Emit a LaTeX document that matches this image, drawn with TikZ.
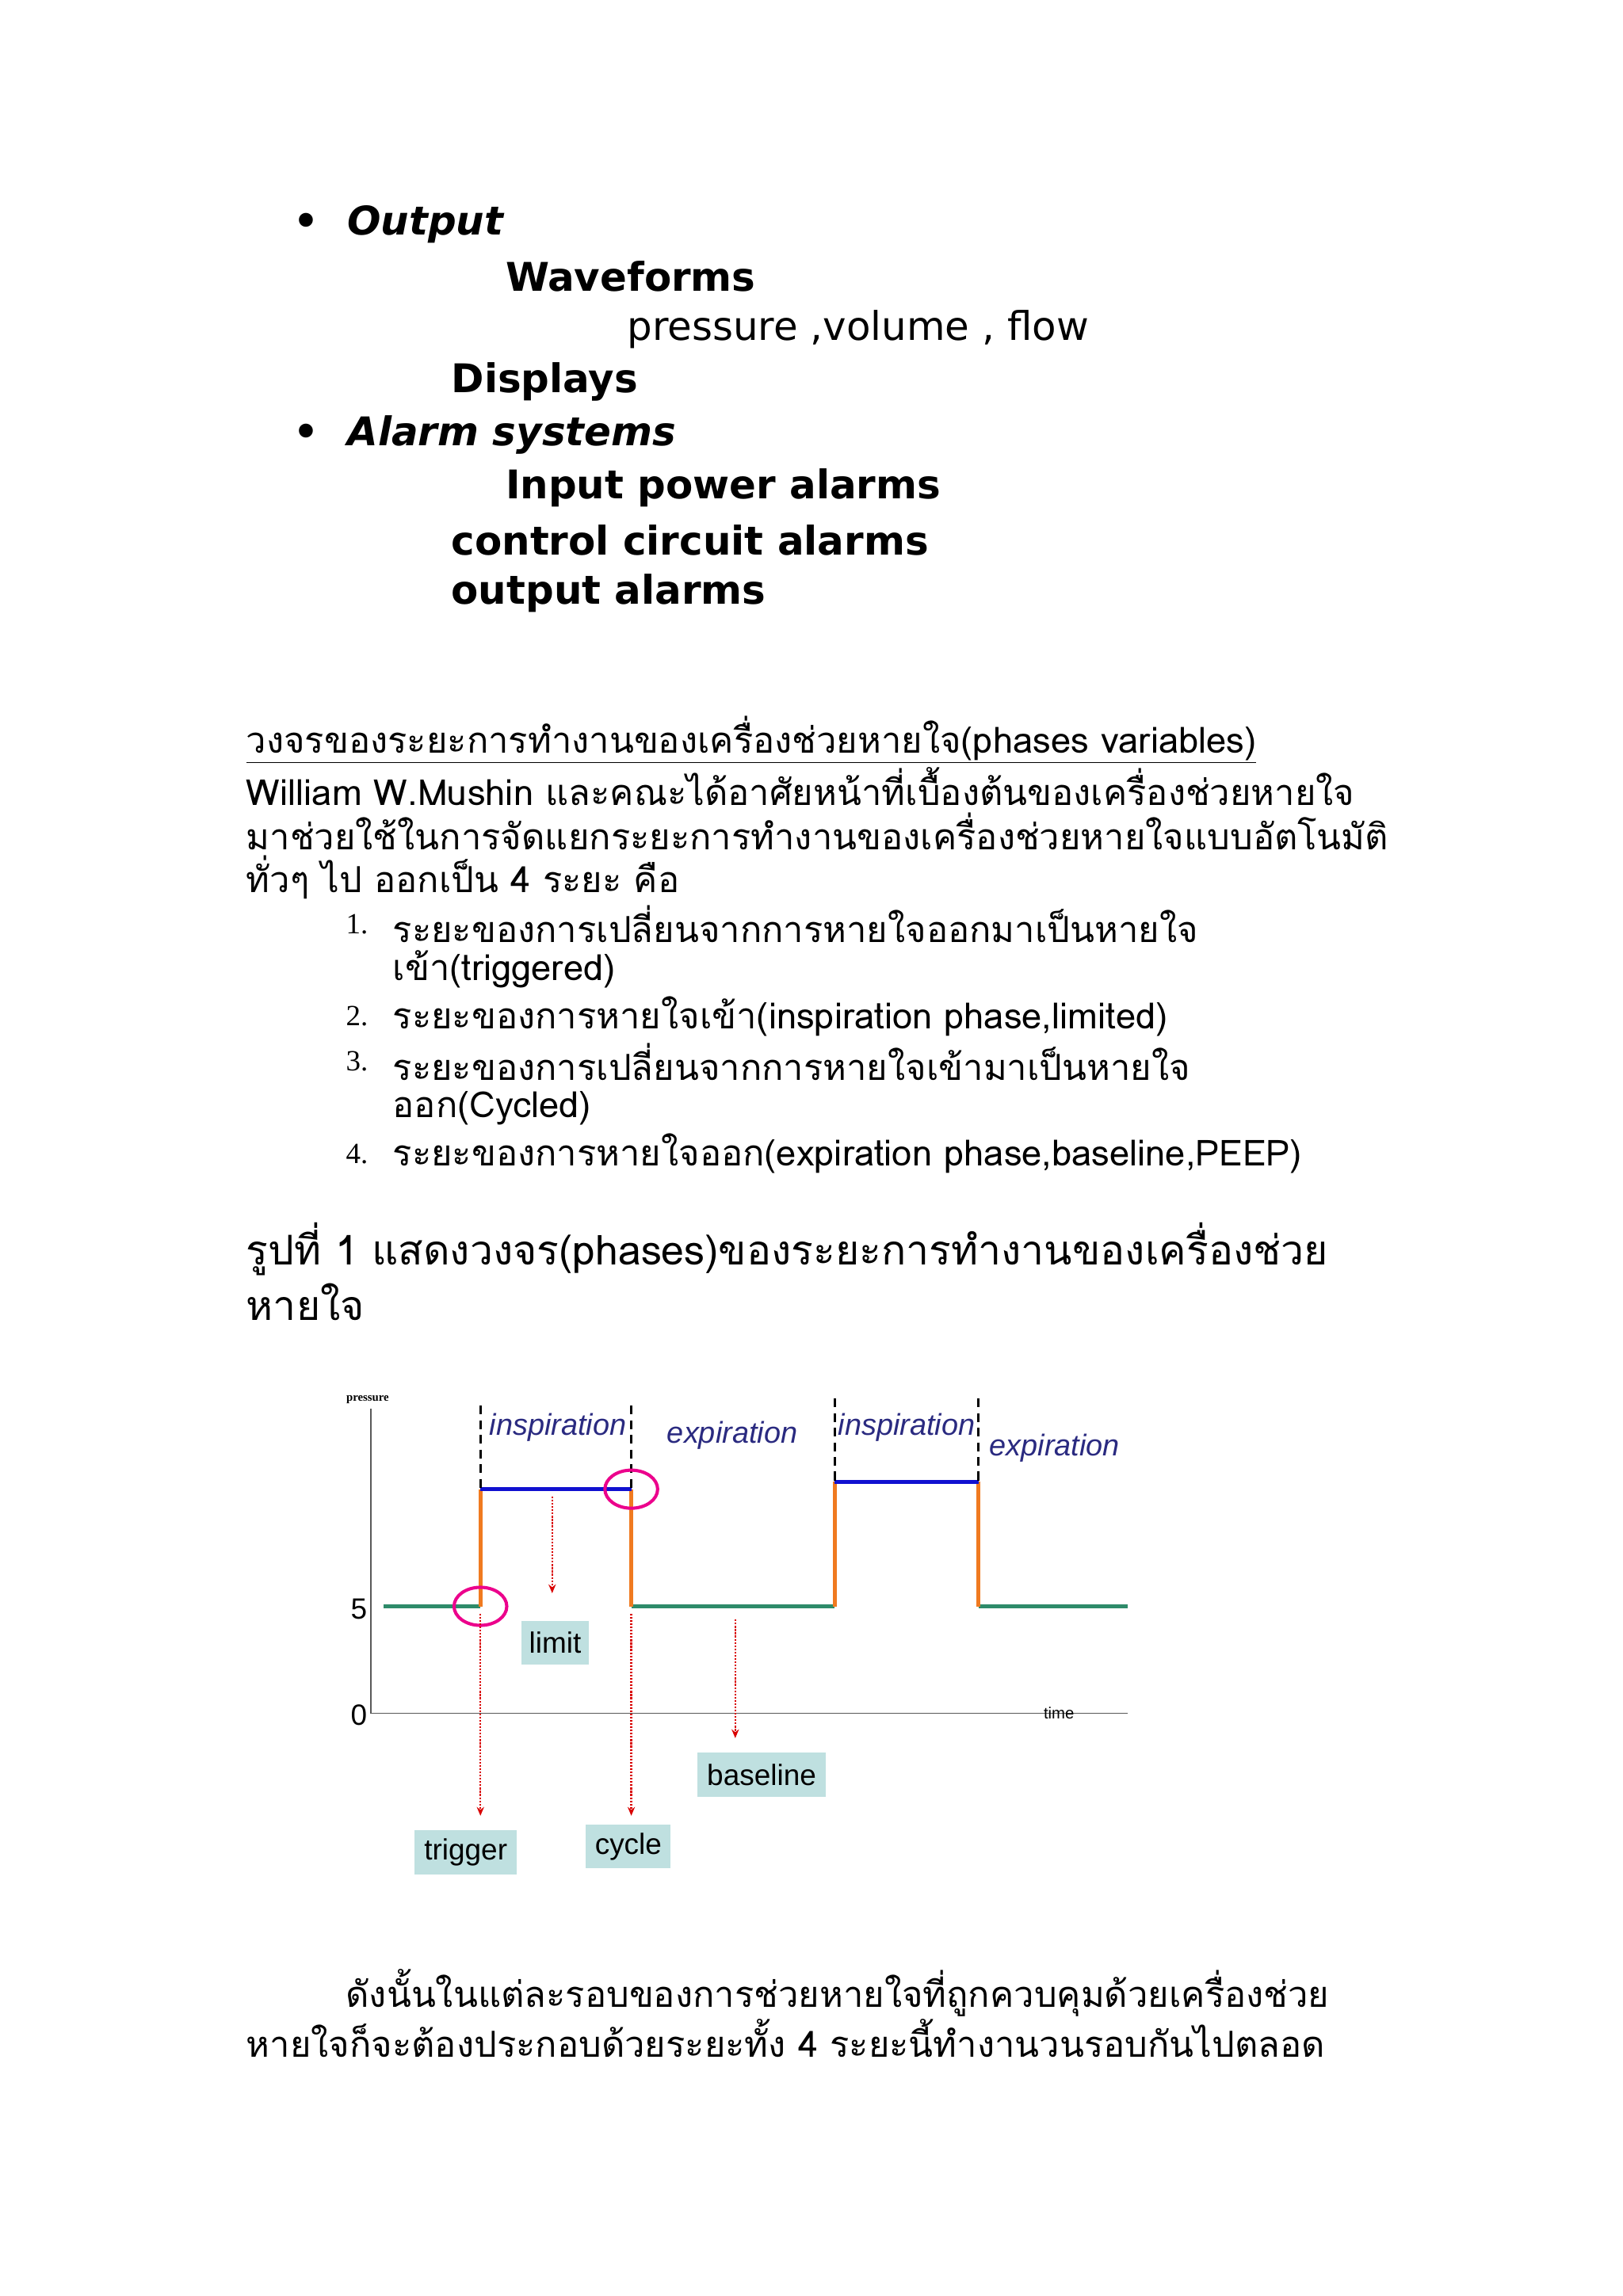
\documentclass[tikz,border=0pt]{standalone}
\usepackage{fontspec}
\setmainfont{DejaVu Sans}
\newfontfamily\thai[Script=Thai]{Loma}
\newfontfamily\arl{Liberation Sans}
\newfontfamily\serifn{Liberation Serif}
\usetikzlibrary{arrows.meta}
\definecolor{grn}{HTML}{2E8B6A}
\definecolor{org}{HTML}{F07A20}
\definecolor{blu}{HTML}{1010D0}
\definecolor{lbl}{HTML}{BFE0E0}
\definecolor{phs}{HTML}{2A2A80}
\tikzset{
 hd/.style={anchor=west,inner sep=0pt,font=\fontsize{27}{29}\selectfont\bfseries},
 hdi/.style={hd,font=\fontsize{27}{29}\selectfont\bfseries\itshape},
 th/.style={anchor=west,inner sep=0pt,font=\fontsize{24.5}{26}\selectfont\thai},
 num/.style={anchor=west,inner sep=0pt,font=\fontsize{20}{22}\selectfont\serifn},
 phase/.style={inner sep=0pt,text=phs,font=\fontsize{20.5}{22}\selectfont\arl\itshape},
 lab/.style={fill=lbl,inner sep=0pt,minimum height=30pt,font=\fontsize{20}{22}\selectfont\arl},
 arr/.style={red!85!black,densely dotted,line width=1.2pt,-{Stealth[length=6pt,width=5pt]}},
 wg/.style={grn,line width=3pt},
 wo/.style={org,line width=2.5pt},
 wb/.style={blu,line width=3pt},
 dsh/.style={black,dash pattern=on 6pt off 4pt,line width=1.8pt},
 ring/.style={magenta,line width=2.2pt},
}
\begin{document}
\begin{tikzpicture}[x=1pt,y=-1pt]
\useasboundingbox[fill=white] (0,0) rectangle (1108,1568);
% header list
\node[hd] (b1) at (200,153) {•};
\node[hdi] (out) at (237,153) {Output};
\node[hd] (wav) at (345,189) {Waveforms};
\node[anchor=west,inner sep=0pt,font=\fontsize{27}{29}\selectfont] (pvf) at (428,225) {pressure ,volume , flow};
\node[hd] (dis) at (308,261) {Displays};
\node[hd] (b2) at (200,297) {•};
\node[hdi] (alm) at (237,297) {Alarm systems};
\node[hd] (ipa) at (345,333) {Input power alarms};
\node[hd] (cca) at (308,369) {control circuit alarms};
\node[hd] (oa) at (308,405) {output alarms};
% thai paragraph
\node[th] (t0) at (168,505) {\underline{วงจรของระยะการทำงานของเครื่องช่วยหายใจ(phases variables)}};
\node[th] (t1) at (168,537) {William W.Mushin และคณะได้อาศัยหน้าที่เบื้องต้นของเครื่องช่วยหายใจ};
\node[th] (t2) at (168,568) {มาช่วยใช้ในการจัดแยกระยะการทำงานของเครื่องช่วยหายใจแบบอัตโนมัติ};
\node[th] (t3) at (168,599) {ทั่วๆ ไป ออกเป็น 4 ระยะ คือ};
\node[num] (n1) at (236,631) {1.};
\node[th] (l1) at (268,631) {ระยะของการเปลี่ยนจากการหายใจออกมาเป็นหายใจ};
\node[th] (l1b) at (268,662) {เข้า(triggered)};
\node[num] (n2) at (236,694) {2.};
\node[th] (l2) at (268,694) {ระยะของการหายใจเข้า(inspiration phase,limited)};
\node[num] (n3) at (236,725) {3.};
\node[th] (l3) at (268,725) {ระยะของการเปลี่ยนจากการหายใจเข้ามาเป็นหายใจ};
\node[th] (l3b) at (268,757) {ออก(Cycled)};
\node[num] (n4) at (236,788) {4.};
\node[th] (l4) at (268,788) {ระยะของการหายใจออก(expiration phase,baseline,PEEP)};
\node[th,font=\fontsize{28}{30}\selectfont\thai] (h1) at (168,853) {รูปที่ 1 แสดงวงจร(phases)ของระยะการทำงานของเครื่องช่วย};
\node[th,font=\fontsize{28}{30}\selectfont\thai] (h2) at (168,889) {หายใจ};
\node[th] (e1) at (236,1361) {ดังนั้นในแต่ละรอบของการช่วยหายใจที่ถูกควบคุมด้วยเครื่องช่วย};
\node[th] (e2) at (168,1392) {หายใจก็จะต้องประกอบด้วยระยะทั้ง 4 ระยะนี้ทำงานวนรอบกันไปตลอด};
% diagram axes
\coordinate (o) at (253,1170);
\coordinate (ytop) at (253,962);
\coordinate (xend) at (770,1170);
\draw[gray!70!black,line width=1pt] (ytop) -- (o) -- (xend);
\node[inner sep=0pt,font=\fontsize{8}{9}\selectfont\serifn\bfseries] (pl) at (251,956) {pressure};
\node[inner sep=0pt,font=\fontsize{11}{12}\selectfont\arl] (tl) at (723,1170) {time};
\node[inner sep=0pt,font=\fontsize{20}{22}\selectfont\arl] (z0) at (245,1171) {0};
\node[inner sep=0pt,font=\fontsize{20}{22}\selectfont\arl] (z5) at (245,1099) {5};
% waveform
\coordinate (a0) at (262,1097); \coordinate (a1) at (328,1097); \coordinate (a2) at (328,1017);
\coordinate (a3) at (431,1017); \coordinate (a4) at (431,1097); \coordinate (a5) at (570,1097);
\coordinate (a6) at (570,1012); \coordinate (a7) at (668,1012); \coordinate (a8) at (668,1097);
\coordinate (a9) at (770,1097);
\draw[wg] (a0) -- (a1); \draw[wg] (a4) -- (a5); \draw[wg] (a8) -- (a9);
\draw[wo] (a1) -- (a2); \draw[wo] (a3) -- (a4); \draw[wo] (a5) -- (a6); \draw[wo] (a7) -- (a8);
\draw[wb] (a2) -- (a3); \draw[wb] (a6) -- (a7);
\coordinate (d1) at (328,960); \coordinate (d2) at (431,960); \coordinate (d3) at (570,955); \coordinate (d4) at (668,955);
\draw[dsh] (d1) -- (a2); \draw[dsh] (d2) -- (a3); \draw[dsh] (d3) -- (a6); \draw[dsh] (d4) -- (a7);
\node[phase] (p1) at (381,975) {inspiration};
\node[phase] (p2) at (500,980) {expiration};
\node[phase] (p3) at (619,975) {inspiration};
\node[phase] (p4) at (720,989) {expiration};
\draw[ring] (a1) ellipse [x radius=18pt,y radius=13pt];
\draw[ring] (a3) ellipse [x radius=18pt,y radius=13pt];
% labels
\node[lab,minimum width=46pt] (lim) at (379,1122) {limit};
\node[lab,minimum width=88pt] (bas) at (520,1212) {baseline};
\node[lab,minimum width=70pt] (trg) at (318,1265) {trigger};
\node[lab,minimum width=58pt] (cyc) at (429,1261) {cycle};
\coordinate (s1) at (377,1022); \coordinate (e1c) at (377,1088);
\coordinate (s2) at (328,1102); \coordinate (e2c) at (328,1240);
\coordinate (s3) at (431,1102); \coordinate (e3c) at (431,1240);
\coordinate (s4) at (502,1106); \coordinate (e4c) at (502,1187);
\draw[arr] (s1) -- (e1c); \draw[arr] (s2) -- (e2c); \draw[arr] (s3) -- (e3c); \draw[arr] (s4) -- (e4c);
\end{tikzpicture}
\end{document}
